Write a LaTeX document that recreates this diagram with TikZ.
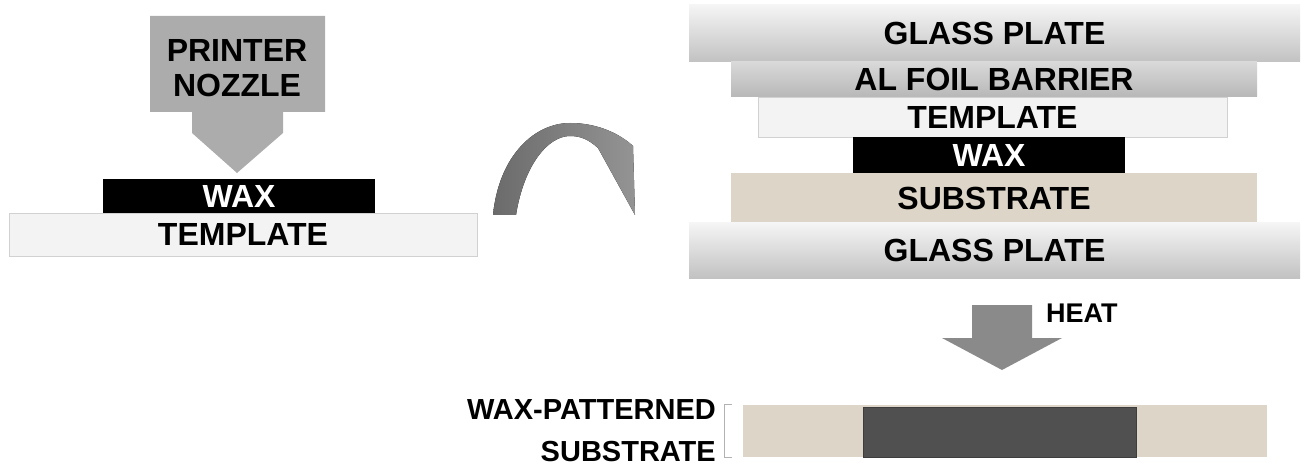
\documentclass[tikz,border=0pt]{standalone}
\usepackage{fontspec}
\setmainfont{Liberation Sans}
\usepackage{xcolor}
\usetikzlibrary{calc,positioning}
\definecolor{nozzlegray}{HTML}{ACACAC}
\definecolor{arrowgray}{HTML}{8A8A8A}
\definecolor{tmplfill}{HTML}{F3F3F3}
\definecolor{substfill}{HTML}{DDD5C7}
\definecolor{darkwax}{HTML}{505050}
\tikzset{
  layer/.style={rectangle, inner sep=0pt, font=\bfseries\fontsize{32}{36}\selectfont},
  glass/.style={layer, top color=black!4, bottom color=black!24},
  foil/.style={layer, top color=black!15, bottom color=black!28},
  tmpl/.style={layer, fill=tmplfill, draw=black!18, line width=0.8pt},
  waxlayer/.style={layer, fill=black, text=white},
  subst/.style={layer, fill=substfill}
}

\begin{document}
\begin{tikzpicture}[x=1pt,y=-1pt]
\useasboundingbox (0,0) rectangle (1304,473);

% Draw printer nozzle.
\fill[nozzlegray] (150,16) -- (325,16) -- (325,112) -- (283,112) -- (283,133)
  -- (237,173) -- (192,133) -- (192,112) -- (150,112) -- cycle;
\node[layer, align=center, font=\bfseries\fontsize{32}{35}\selectfont] (nozzle) at (237,68) {PRINTER\\NOZZLE};

% Draw wax printed on template.
\node[tmpl, minimum width=468pt, minimum height=43pt] (tmplA) at (243,234.5) {TEMPLATE};
\node[waxlayer, minimum width=272pt, minimum height=34pt] (waxA) at (239,196) {WAX};

% Draw curved arrow.
\fill[left color=black!58, right color=black!42]
  (493,215) .. controls (499,155) and (535,123) .. (570,123)
  .. controls (598,123) and (620,134) .. (633,146) -- (635,215) -- (598,148)
  .. controls (588,139) and (580,136) .. (570,136)
  .. controls (548,136) and (524,165) .. (516,215) -- cycle;

% Draw the stack.
\node[glass, minimum width=611pt, minimum height=57pt] (glassTop) at (994.5,33.5) {GLASS PLATE};
\node[foil, minimum width=526pt, minimum height=35pt] (foil) at (994,79.5) {AL FOIL BARRIER};
\node[tmpl, minimum width=469pt, minimum height=40pt] (tmplB) at (992.5,117) {TEMPLATE};
\node[waxlayer, minimum width=272pt, minimum height=36pt] (waxB) at (989,155) {WAX};
\node[subst, minimum width=526pt, minimum height=50pt] (subst) at (994,198) {SUBSTRATE};
\node[glass, minimum width=611pt, minimum height=55pt] (glassBot) at (994.5,250.5) {GLASS PLATE};

% Draw heat arrow.
\fill[arrowgray] (972,305) -- (1032,305) -- (1032,338) -- (1062,338) -- (1002,370)
  -- (942,338) -- (972,338) -- cycle;
\node[layer, font=\bfseries\fontsize{27}{30}\selectfont, anchor=west] (heat) at (1046,313) {HEAT};

% Draw wax-patterned substrate.
\node[subst, minimum width=524pt, minimum height=52pt] (strip) at (1005,431) {};
\node[layer, fill=darkwax, draw=black!76, line width=0.8pt, minimum width=273pt, minimum height=50pt] (pattern) at (999.5,432) {};
\node[layer, font=\bfseries\fontsize{29}{42}\selectfont, align=right, anchor=east] (result) at (716,431) {WAX-PATTERNED\\SUBSTRATE};
\draw[black!30, line width=1pt] ([xshift=-11pt]strip.north west) -- ([xshift=-18pt]strip.north west)
  -- ([xshift=-18pt]strip.south west) -- ([xshift=-11pt]strip.south west);
\end{tikzpicture}
\end{document}
